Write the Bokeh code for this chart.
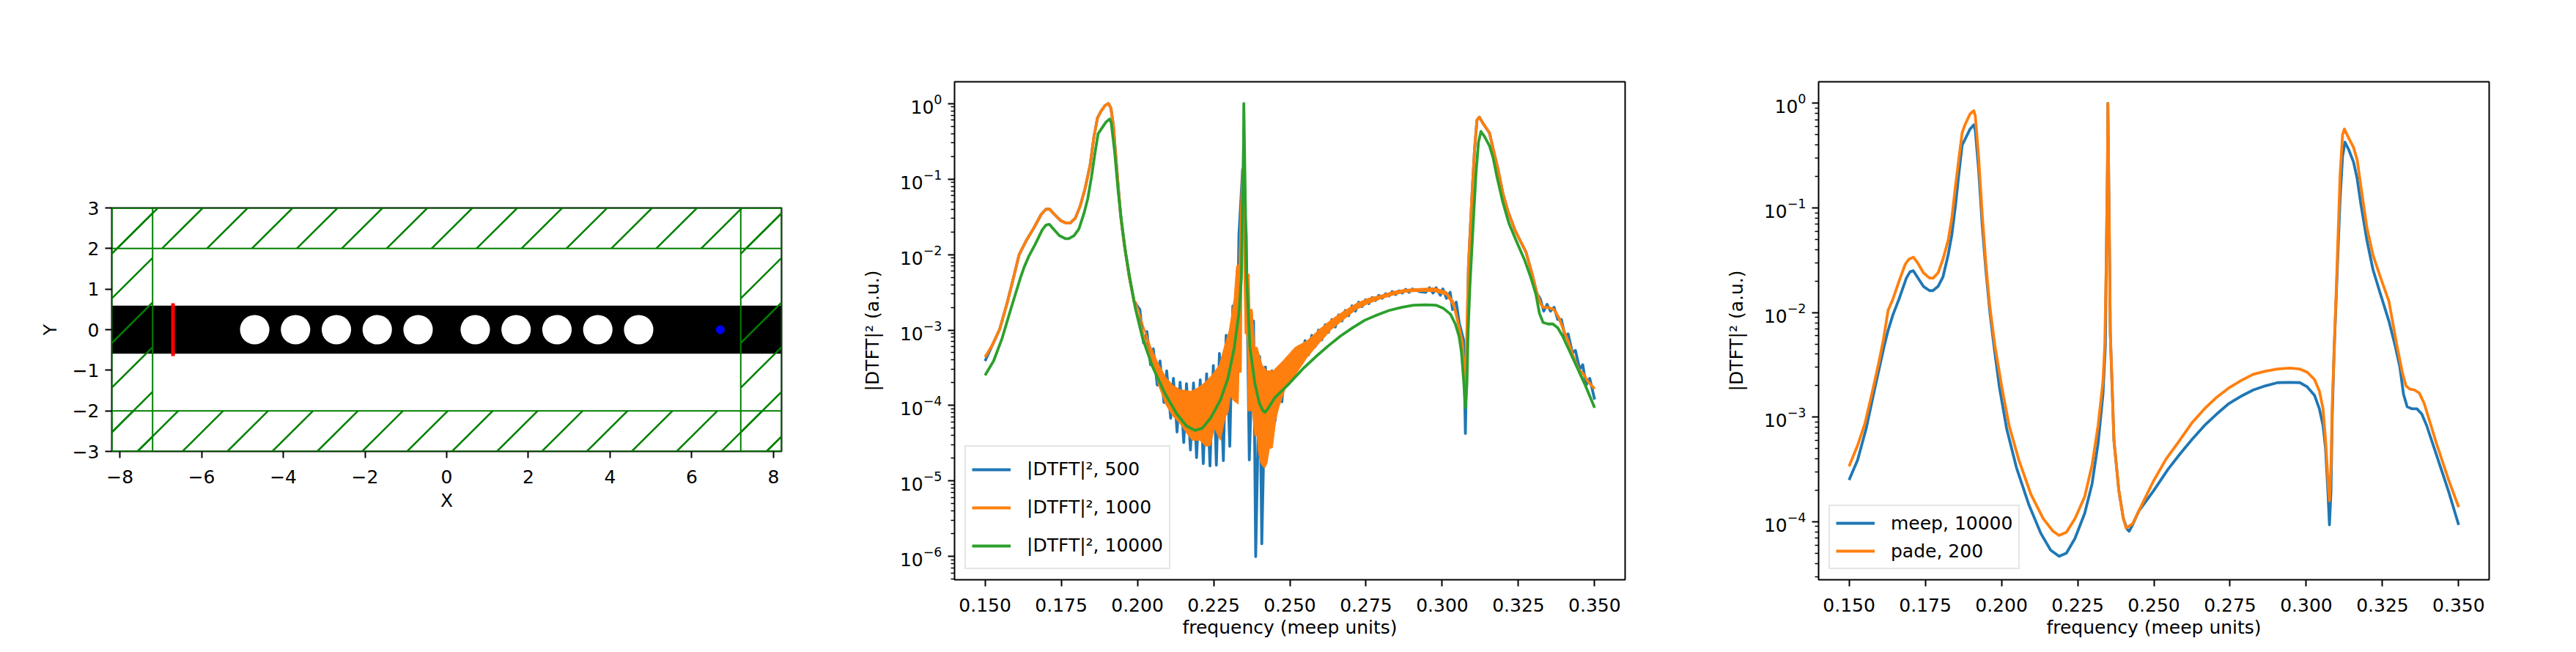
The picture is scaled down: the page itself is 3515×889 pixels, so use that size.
import numpy as np
from bokeh.embed import file_html
from bokeh.layouts import column, row
from bokeh.models import (FixedTicker, Legend, LegendItem,
                          NumeralTickFormatter, Range1d, Spacer)
from bokeh.plotting import figure
from bokeh.resources import INLINE

# ---------------- panel 1: geometry ----------------
x_ticks = [-8, -6, -4, -2, 0, 2, 4, 6, 8]
y_ticks = [-3, -2, -1, 0, 1, 2, 3]
hole_x = [-4.7, -3.7, -2.7, -1.7, -0.7, 0.7, 1.7, 2.7, 3.7, 4.7]
hole_r = 0.36
wg_half = 0.59
src_x, src_half = -6.7, 0.65
mon_x, mon_y = 6.7, 0.0
x_lim = (-8.2, 8.2)
y_lim = (-3.0, 3.0)
pml_x0, pml_x1 = [-8.2, 7.2, -8.2, -8.2], [-7.2, 8.2, 8.2, 8.2]
pml_y0, pml_y1 = [-3.0, -3.0, 2.0, -3.0], [3.0, 3.0, 3.0, -2.0]
hatch_step, hatch_phase = 1.1, 0.17

# ---------------- spectra: frequency and log10(|DTFT|^2) ----------------
meep_f = [.1500,.1528,.1556,.1584,.1616,.1628,.1644,.1664,.1688,.1700,.1711,.1724,.1744,.1764,.1775,.1792,
          .1808,.1825,.1837,.1849,.1861,.1871,.1881,.1897,.1909,.1914,.1925,.1937,.1949,.1961,.1975,.1993,
          .2017,.2049,.2089,.2129,.2161,.2189,.2213,.2241,.2273,.2297,.2317,.2333,.2341,.2344,.2348,.2349,
          .2351,.2354,.2357,.2369,.2385,.2400,.2412,.2419,.2430,.2450,.2500,.2546,.2586,.2626,.2666,.2706,.2746,
          .2786,.2826,.2866,.2906,.2946,.2979,.3003,.3027,.3043,.3055,.3063,.3071,.3076,.3081,.3085,.3091,
          .3103,.3111,.3119,.3127,.3139,.3155,.3167,.3179,.3199,.3219,.3243,.3271,.3291,.3307,.3319,.3331,
          .3347,.3363,.3379,.3395,.3427,.3467,.3500]
meep_v = [-3.60,-3.41,-3.11,-2.73,-2.31,-2.17,-2.02,-1.87,-1.67,-1.61,-1.60,-1.66,-1.75,-1.79,-1.79,-1.75,
          -1.66,-1.45,-1.26,-0.98,-0.65,-0.40,-0.34,-0.245,-0.205,-0.255,-0.63,-1.17,-1.60,-1.97,-2.31,-2.71,
          -3.11,-3.48,-3.83,-4.11,-4.27,-4.33,-4.30,-4.16,-3.92,-3.64,-3.25,-2.78,-2.31,-1.49,-0.56,0.0,
          -0.5,-1.3,-2.19,-3.22,-3.70,-3.97,-4.07,-4.09,-4.03,-3.90,-3.70,-3.50,-3.35,-3.21,-3.08,-2.97,-2.87,
          -2.80,-2.74,-2.70,-2.67,-2.667,-2.67,-2.71,-2.79,-2.92,-3.08,-3.29,-3.71,-4.03,-3.71,-3.01,-2.40,
          -1.49,-0.91,-0.51,-0.37,-0.44,-0.56,-0.72,-0.96,-1.31,-1.59,-1.82,-2.08,-2.31,-2.52,-2.78,-2.90,
          -2.92,-2.92,-2.97,-3.08,-3.36,-3.71,-4.03]

pade_f = [.1500,.1528,.1552,.1576,.1596,.1612,.1628,.1644,.1664,.1684,.1696,.1711,.1724,.1744,.1764,.1776,
          .1792,.1808,.1825,.1837,.1849,.1861,.1871,.1881,.1897,.1909,.1914,.1925,.1937,.1949,.1961,.1978,
          .2001,.2025,.2057,.2097,.2137,.2169,.2189,.2213,.2241,.2273,.2297,.2317,.2333,.2339,.2344,.2348,
          .2349,.2351,.2354,.2357,.2369,.2385,.2400,.2409,.2430,.2460,.2497,.2540,.2580,.2626,.2666,.2706,.2746,.2786,
          .2826,.2866,.2906,.2946,.2979,.3003,.3027,.3043,.3055,.3064,.3071,.3076,.3081,.3085,.3092,.3099,
          .3111,.3119,.3125,.3139,.3155,.3167,.3179,.3199,.3219,.3243,.3271,.3297,.3315,.3327,.3339,.3355,
          .3371,.3387,.3427,.3467,.3500]
pade_v = [-3.47,-3.27,-3.06,-2.76,-2.50,-2.27,-1.98,-1.87,-1.70,-1.54,-1.49,-1.47,-1.52,-1.62,-1.67,-1.67,
          -1.62,-1.49,-1.31,-1.10,-0.79,-0.51,-0.28,-0.20,-0.10,-0.07,-0.115,-0.51,-1.07,-1.54,-1.92,-2.31,
          -2.71,-3.08,-3.41,-3.74,-3.97,-4.09,-4.13,-4.10,-3.97,-3.76,-3.46,-3.08,-2.66,-2.31,-1.49,-0.56,
          0.0,-0.5,-1.3,-2.19,-3.22,-3.70,-3.97,-4.06,-4.02,-3.84,-3.62,-3.40,-3.24,-3.05,-2.92,-2.81,-2.72,-2.65,
          -2.59,-2.56,-2.54,-2.53,-2.54,-2.57,-2.64,-2.75,-2.92,-3.25,-3.60,-3.80,-3.48,-2.90,-2.31,-1.73,
          -0.68,-0.30,-0.245,-0.33,-0.42,-0.54,-0.79,-1.19,-1.45,-1.66,-1.89,-2.31,-2.57,-2.70,-2.73,-2.74,
          -2.77,-2.87,-3.25,-3.60,-3.86]

# 1000-step DTFT: outside the ripple zone, a line; inside, its centre and visible envelope
o1000_f = [.1500,.1524,.1548,.1572,.1592,.1612,.1636,.1660,.1684,.1700,.1712,.1728,.1748,.1764,.1780,.1796,
           .1812,.1828,.1845,.1857,.1869,.1881,.1893,.1905,.1913,.1921,.1933,.1945,.1957,.1973,.1989,.2005,
           .2021,.2037,.2068,.2116,.2164,.2204,.2240,.2272,.2305,.2333,.2340,.2346,.2351,.2358,.2377,.2405,
           .2425,.2445,.2485,.2517,.2557,.2597,.2637,.2677,.2717,.2757,.2797,.2837,.2877,.2918,.2974,.3014,
           .3038,.3054,.3066,.3072,.3076,.3086,.3098,.3106,.3114,.3122,.3135,.3155,.3167,.3183,.3199,.3215,
           .3239,.3255,.3275,.3295,.3311,.3323,.3331,.3347,.3367,.3383,.3399,.3415,.3431,.3447,.3463,.3478,.3500]
o1000_v = [-3.36,-3.20,-2.99,-2.65,-2.33,-2.00,-1.81,-1.65,-1.47,-1.40,-1.40,-1.47,-1.55,-1.58,-1.58,-1.52,
           -1.36,-1.13,-0.81,-0.45,-0.19,-0.10,-0.03,0.0,-0.06,-0.29,-0.90,-1.49,-1.87,-2.29,-2.62,-2.88,
           -3.10,-3.30,-3.58,-3.93,-4.08,-4.10,-4.05,-3.90,-3.40,-2.90,-1.50,-0.87,-1.50,-3.00,-3.40,-4.10,
           -4.15,-4.00,-3.60,-3.40,-3.24,-3.07,-2.92,-2.80,-2.69,-2.61,-2.56,-2.51,-2.48,-2.47,-2.46,-2.51,
           -2.66,-2.94,-3.17,-3.52,-3.85,-2.16,-1.19,-0.61,-0.22,-0.18,-0.27,-0.39,-0.60,-0.87,-1.19,-1.42,
           -1.68,-1.81,-1.97,-2.26,-2.52,-2.65,-2.70,-2.70,-2.73,-2.84,-3.01,-3.17,-3.36,-3.52,-3.58,-3.68,-3.78]

bandL_top_f = [.1996,.2020,.2044,.2068,.2092,.2116,.2140,.2176,.2196,.2220,.2244,.2269,.2285,.2301,.2317,.2325,.2333,.2339,.2346]
bandL_top_v = [-2.62,-2.94,-3.22,-3.44,-3.62,-3.73,-3.79,-3.81,-3.77,-3.70,-3.60,-3.46,-3.22,-3.01,-2.59,-2.15,-2.13,-1.42,-0.87]
bandL_low_f = [.2000,.2048,.2068,.2092,.2116,.2140,.2164,.2180,.2204,.2224,.2240,.2252,.2272,.2289,.2297,.2305,.2317,.2331,.2333,.2341,.2343,.2345,.2346]
bandL_low_v = [-2.70,-3.36,-3.72,-3.98,-4.14,-4.24,-4.38,-4.46,-4.46,-4.54,-4.53,-4.30,-4.46,-4.14,-4.10,-3.88,-3.94,-3.98,-3.56,-3.56,-2.39,-1.74,-0.87]
bandR_top_f = [.2346,.2351,.2360,.2367,.2369,.2377,.2385,.2393,.2409,.2425,.2445,.2477,.2517,.2557,.2597,.2637,.2677,.2717,.2757,.2797,.2837,.2877,.2918,.2974,.3014,.3038]
bandR_top_v = [-0.87,-1.42,-2.26,-2.26,-2.72,-2.73,-3.22,-3.23,-3.46,-3.54,-3.54,-3.41,-3.23,-3.14,-2.99,-2.86,-2.75,-2.65,-2.58,-2.54,-2.49,-2.46,-2.45,-2.44,-2.49,-2.62]
bandR_low_f = [.2346,.2349,.2353,.2360,.2363,.2367,.2377,.2385,.2393,.2397,.2405,.2417,.2425,.2433,.2443,.2449,.2455,.2465,.2485,.2509,.2557,.2597,.2637,.2677,.2717,.2757,.2797,.2837,.2877,.2918,.2974,.3014,.3038]
bandR_low_v = [-0.87,-2.20,-3.05,-3.04,-4.07,-4.07,-4.07,-4.40,-4.40,-4.62,-4.77,-4.83,-4.77,-4.57,-4.56,-4.36,-4.17,-4.01,-3.78,-3.65,-3.36,-3.17,-2.99,-2.86,-2.73,-2.65,-2.59,-2.54,-2.50,-2.49,-2.49,-2.54,-2.70]

# 500-step DTFT: the ripple tips read one by one
b500_f = [.1500,.1524,.1548,.1572,.1592,.1612,.1636,.1660,.1684,.1700,.1712,.1728,.1748,.1764,.1780,.1796,
          .1812,.1828,.1845,.1857,.1869,.1881,.1893,.1905,.1913,.1921,.1933,.1945,.1957,.1973,.1989,
          .2008,.2020,.2031,.2043,.2052,.2065,.2074,.2087,.2096,.2109,.2118,.2130,.2140,.2152,.2161,.2174,
          .2184,.2194,.2206,.2216,.2227,.2238,.2249,.2259,.2269,.2282,.2291,.2303,.2313,.2325,.2333,.2345,
          .2357,.2367,.2381,.2388,.2401,.2408,.2420,.2431,.2441,.2452,.2463,.2474,.2484,.2495,.2506,.2517,
          .2528,.2539,.2550,.2561,.2572,.2583,.2594,.2605,.2616,.2627,.2638,.2649,.2660,.2671,.2682,.2693,
          .2704,.2715,.2726,.2737,.2748,.2759,.2770,.2781,.2792,.2803,.2814,.2825,.2836,.2847,.2858,.2869,
          .2880,.2891,.2902,.2926,.2946,.2958,.2970,.2980,.2994,.3002,.3014,.3026,.3034,.3046,.3056,.3070,
          .3076,.3086,.3098,.3106,.3114,.3122,.3135,.3155,.3167,.3183,.3199,.3215,.3239,.3255,.3275,.3295,
          .3311,.3322,.3333,.3344,.3355,.3367,.3379,.3391,.3403,.3413,.3427,.3437,.3451,.3461,.3472,.3484,.3500]
b500_v = [-3.41,-3.20,-2.99,-2.65,-2.33,-2.00,-1.81,-1.65,-1.47,-1.40,-1.40,-1.47,-1.55,-1.58,-1.58,-1.52,
          -1.36,-1.13,-0.81,-0.45,-0.19,-0.10,-0.03,0.0,-0.06,-0.29,-0.90,-1.49,-1.87,-2.29,-2.62,
          -2.73,-3.17,-3.02,-3.46,-3.25,-3.73,-3.41,-3.96,-3.54,-4.17,-3.64,-4.35,-3.69,-4.49,-3.71,-4.59,
          -3.70,-4.69,-3.66,-4.77,-3.58,-4.80,-3.47,-4.79,-3.31,-4.73,-3.07,-4.54,-2.68,-3.90,-1.74,-0.87,
          -1.74,-4.72,-2.88,-6.00,-3.35,-5.83,-3.49,-4.40,-3.54,-4.20,-3.50,-3.95,-3.43,-3.72,-3.33,-3.55,
          -3.22,-3.40,-3.14,-3.33,-3.07,-3.22,-3.00,-3.13,-2.93,-3.03,-2.86,-2.96,-2.80,-2.88,-2.74,-2.81,
          -2.68,-2.75,-2.63,-2.69,-2.60,-2.65,-2.57,-2.61,-2.54,-2.58,-2.52,-2.55,-2.49,-2.53,-2.48,-2.51,
          -2.46,-2.50,-2.456,-2.49,-2.50,-2.44,-2.51,-2.44,-2.54,-2.456,-2.58,-2.50,-2.73,-2.63,-2.91,-3.13,
          -4.37,-2.16,-1.19,-0.61,-0.22,-0.18,-0.27,-0.39,-0.60,-0.87,-1.19,-1.42,-1.68,-1.81,-1.97,-2.26,
          -2.52,-2.59,-2.75,-2.66,-2.75,-2.70,-2.86,-2.86,-3.09,-3.05,-3.30,-3.27,-3.52,-3.46,-3.73,-3.64,-3.92]

freq_ticks = [.150, .175, .200, .225, .250, .275, .300, .325, .350]
freq_lim = (0.14, 0.36)
y2_lim = (4.93e-7, 1.94)
y3_lim = (2.79e-5, 1.61)
y2_decades = [-6, -5, -4, -3, -2, -1, 0]
y3_decades = [-4, -3, -2, -1, 0]
minor_mult = [2, 3, 4, 5, 6, 7, 8, 9]

labels2 = ["|DTFT|², 500", "|DTFT|², 1000", "|DTFT|², 10000"]
labels3 = ["meep, 10000", "pade, 200"]
y_title = "|DTFT|² (a.u.)"
x_title = "frequency (meep units)"

BLUE, ORANGE, GREEN = "#1f77b4", "#ff7f0e", "#2ca02c"
LW = 3.8
FS = "25px"
FONT = "DejaVu Sans"
MINUS = "\u2212"


def pow10(v):
    return (10.0 ** np.asarray(v, dtype=float)).tolist()


def style(p):
    p.outline_line_color = "black"
    p.outline_line_width = 2
    p.background_fill_color = "white"
    p.border_fill_color = "white"
    p.xgrid.visible = False
    p.ygrid.visible = False
    for ax in list(p.xaxis) + list(p.yaxis):
        ax.axis_line_color = None
        ax.major_tick_line_color = "black"
        ax.major_tick_line_width = 2
        ax.major_tick_out = 9
        ax.major_tick_in = 0
        ax.minor_tick_line_color = None
        ax.major_label_text_font = FONT
        ax.major_label_text_font_size = FS
        ax.major_label_text_color = "black"
        ax.axis_label_text_font = FONT
        ax.axis_label_text_font_size = FS
        ax.axis_label_text_font_style = "normal"
        ax.axis_label_text_color = "black"


def spectrum_fig(total_w, left, right, y_lim_, decades):
    p = figure(width=total_w, height=881, frame_width=915, frame_height=679,
               x_range=Range1d(*freq_lim), y_range=Range1d(*y_lim_), y_axis_type="log",
               output_backend="svg", toolbar_location=None,
               min_border_left=left, min_border_right=right, min_border_top=111, min_border_bottom=91)
    style(p)
    p.xaxis.ticker = FixedTicker(ticks=freq_ticks)
    p.xaxis.formatter = NumeralTickFormatter(format="0.000")
    p.xaxis.axis_label = x_title
    p.xaxis.major_label_standoff = 16
    p.xaxis.axis_label_standoff = 4
    all_dec = list(range(min(decades) - 1, max(decades) + 1))
    minors = [m * 10.0 ** d for d in all_dec for m in minor_mult]
    p.yaxis.ticker = FixedTicker(ticks=[10.0 ** d for d in decades], minor_ticks=minors)
    p.yaxis.minor_tick_line_color = "black"
    p.yaxis.minor_tick_line_width = 1.5
    p.yaxis.minor_tick_out = 5
    p.yaxis.minor_tick_in = 0
    p.yaxis.axis_label = y_title
    p.yaxis.major_label_standoff = 8
    p.yaxis.axis_label_standoff = 20
    return p


def add_legend(p, names, rends, height, spacing):
    leg = Legend(items=[LegendItem(label=n, renderers=[r]) for n, r in zip(names, rends)],
                 location="bottom_left", margin=14, padding=8, spacing=spacing,
                 label_text_font=FONT, label_text_font_size=FS, label_text_color="black",
                 label_height=height, glyph_height=20, glyph_width=53, label_standoff=22,
                 background_fill_color="white", background_fill_alpha=0.8,
                 border_line_color="#cccccc", border_line_width=2)
    p.add_layout(leg)


# ---------------- panel 1 ----------------
p1 = figure(width=1150, height=709, frame_width=914, frame_height=332,
            x_range=Range1d(*x_lim), y_range=Range1d(*y_lim),
            output_backend="svg", toolbar_location=None,
            min_border_left=152, min_border_right=84, min_border_top=111, min_border_bottom=266)
style(p1)
p1.xaxis.ticker = FixedTicker(ticks=x_ticks)
p1.yaxis.ticker = FixedTicker(ticks=y_ticks)
p1.xaxis.major_label_overrides = {t: str(t).replace("-", MINUS) for t in x_ticks}
p1.yaxis.major_label_overrides = {t: str(t).replace("-", MINUS) for t in y_ticks}
p1.xaxis.axis_label = "X"
p1.yaxis.axis_label = "Y"
p1.xaxis.major_label_standoff = 16
p1.yaxis.major_label_standoff = 8
p1.xaxis.axis_label_standoff = 6
p1.yaxis.axis_label_standoff = 13

p1.quad(left=[x_lim[0]], right=[x_lim[1]], bottom=[-wg_half], top=[wg_half],
        fill_color="black", line_color=None)
p1.circle(x=hole_x, y=[0.0] * len(hole_x), radius=hole_r, fill_color="white", line_color=None)

hx0, hy0, hx1, hy1 = [], [], [], []
for a0, a1, b0, b1 in zip(pml_x0, pml_x1, pml_y0, pml_y1):
    c_lo = int(np.floor((b0 - a1 - hatch_phase) / hatch_step))
    c_hi = int(np.ceil((b1 - a0 - hatch_phase) / hatch_step))
    for k in range(c_lo, c_hi + 1):
        c = hatch_phase + k * hatch_step
        xs = max(a0, b0 - c)
        xe = min(a1, b1 - c)
        if xe > xs:
            hx0.append(xs); hy0.append(xs + c); hx1.append(xe); hy1.append(xe + c)
p1.segment(x0=hx0, y0=hy0, x1=hx1, y1=hy1, line_color="green", line_width=2.5)
p1.quad(left=pml_x0, right=pml_x1, bottom=pml_y0, top=pml_y1, fill_color=None,
        line_color="green", line_width=2)
p1.segment(x0=[src_x], y0=[-src_half], x1=[src_x], y1=[src_half], line_color="red", line_width=5)
p1.scatter(x=[mon_x], y=[mon_y], size=12, marker="circle", fill_color="blue", line_color=None)

# ---------------- panel 2 ----------------
p2 = spectrum_fig(1170, 152, 103, y2_lim, y2_decades)
r_b = p2.line(b500_f, pow10(b500_v), line_color=BLUE, line_width=LW, line_join="round")
r_o = p2.line(o1000_f, pow10(o1000_v), line_color=ORANGE, line_width=LW, line_join="round")
p2.patch(bandL_top_f + bandL_low_f[::-1], pow10(bandL_top_v + bandL_low_v[::-1]),
         fill_color=ORANGE, line_color=ORANGE, line_width=1)
p2.patch(bandR_top_f + bandR_low_f[::-1], pow10(bandR_top_v + bandR_low_v[::-1]),
         fill_color=ORANGE, line_color=ORANGE, line_width=1)
r_g = p2.line(meep_f, pow10(meep_v), line_color=GREEN, line_width=LW, line_join="round")
add_legend(p2, labels2, [r_b, r_o, r_g], 45, 7)

# ---------------- panel 3 ----------------
p3 = spectrum_fig(1187, 161, 111, y3_lim, y3_decades)
r_m = p3.line(meep_f, pow10(meep_v), line_color=BLUE, line_width=LW, line_join="round")
r_p = p3.line(pade_f, pow10(pade_v), line_color=ORANGE, line_width=LW, line_join="round")
add_legend(p3, labels3, [r_m, r_p], 30, 8)

page = row(column(Spacer(width=1150, height=172), p1, spacing=0), p2, p3, spacing=0)
open("out.html", "w").write(file_html(page, INLINE))
